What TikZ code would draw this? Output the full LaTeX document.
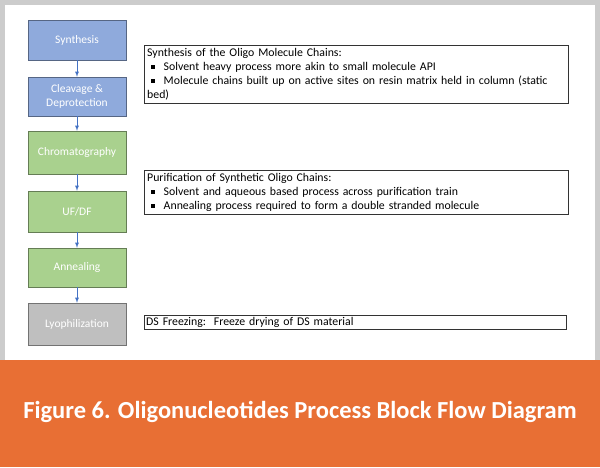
\documentclass[tikz,border=0pt]{standalone}
\usepackage{fontspec}
\setmainfont{Carlito}
\usetikzlibrary{positioning}
\definecolor{stepblue}{HTML}{8FAADC}
\definecolor{stepgreen}{HTML}{A9D18E}
\definecolor{stepgray}{HTML}{BFBFBF}
\definecolor{bandorange}{HTML}{E86F34}
\definecolor{arrowblue}{HTML}{4472C4}
\newcommand{\sqbul}{\hspace*{4pt}\rule[0.15em]{0.3em}{0.3em}\hspace{9pt}}
\tikzset{
  step/.style={draw=#1!60!black, fill=#1, text=white, minimum width=98pt, align=center, font=\fontsize{11.5}{14}\selectfont, inner sep=2pt},
  note/.style={draw=black!80, fill=white, anchor=north west, text width=418pt, align=left, font=\fontsize{11.8}{14}\selectfont, inner sep=3pt},
  flow/.style={-latex, draw=arrowblue, thick}
}
\begin{document}
\begin{tikzpicture}[x=1pt,y=-1pt]
\fill[black!20] (0,0) rectangle (600,467);
\fill[white] (5,5) rectangle (595,360);
\fill[bandorange] (0,360) rectangle (600,467);
% process steps
\node[step=stepblue, minimum height=40pt] (syn) at (77,40) {Synthesis};
\node[step=stepblue, minimum height=39pt] (clv) at (77,96.5) {Cleavage \&\\Deprotection};
\node[step=stepgreen, minimum height=43pt] (chr) at (77,152.5) {Chromatography};
\node[step=stepgreen, minimum height=41pt] (uf) at (77,211.5) {UF/DF};
\node[step=stepgreen, minimum height=39pt] (ann) at (77,267.5) {Annealing};
\node[step=stepgray, minimum height=42pt] (lyo) at (77,324) {Lyophilization};
\draw[flow] (syn) -- (clv);
\draw[flow] (clv) -- (chr);
\draw[flow] (chr) -- (uf);
\draw[flow] (uf) -- (ann);
\draw[flow] (ann) -- (lyo);
% notes
\node[note] (n1) at (144,45) {Synthesis of the Oligo Molecule Chains:\\
\sqbul Solvent heavy process more akin to small molecule API\\
\sqbul Molecule chains built up on active sites on resin matrix held in column (static bed)};
\node[note] (n2) at (144,170) {Purification of Synthetic Oligo Chains:\\
\sqbul Solvent and aqueous based process across purification train\\
\sqbul Annealing process required to form a double stranded molecule};
\node[note, inner sep=2pt] (n3) at (144,315) {DS Freezing:\ \ Freeze drying of DS material};
\node[text=white, font=\bfseries\fontsize{24.5}{28}\selectfont] (title) at (300,412) {Figure 6. Oligonucleotides Process Block Flow Diagram};
\end{tikzpicture}
\end{document}
